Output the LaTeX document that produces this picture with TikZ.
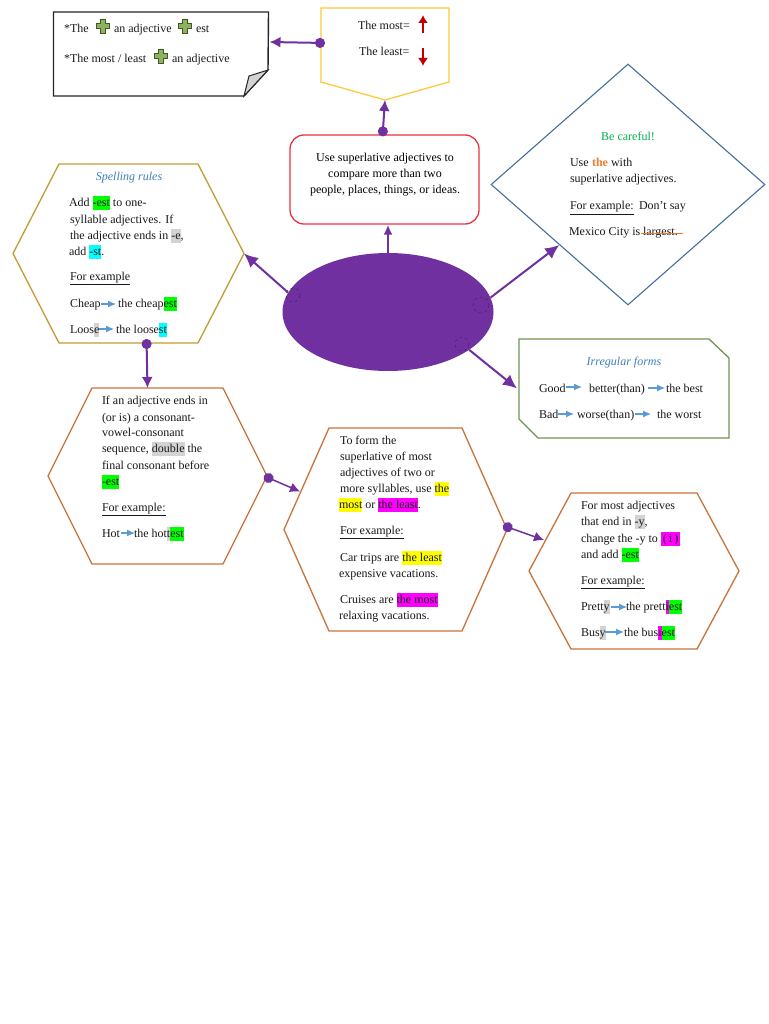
\documentclass[tikz,border=0pt]{standalone}
\usepackage{fontspec}
\setmainfont{Liberation Serif}
\usetikzlibrary{arrows.meta,shapes.geometric,shapes.misc}
\definecolor{pur}{HTML}{7030A0}
\definecolor{gold}{HTML}{FFC93C}
\definecolor{mustard}{HTML}{C49A35}
\definecolor{rust}{HTML}{C8733A}
\definecolor{leaf}{HTML}{6F9650}
\definecolor{dia}{HTML}{41719C}
\definecolor{redbox}{HTML}{E8343C}
\definecolor{skyb}{HTML}{5B9BD5}
\definecolor{titleb}{HTML}{3F7FBF}
\definecolor{orng}{HTML}{ED7D31}
\definecolor{grn}{HTML}{00FF00}
\definecolor{gry}{HTML}{D3D3D3}
\definecolor{cyn}{HTML}{00FFFF}
\definecolor{mag}{HTML}{FF00FF}
\definecolor{yel}{HTML}{FFFF00}
\definecolor{crossf}{HTML}{8DB262}
\definecolor{crossd}{HTML}{3F5A25}
\newcounter{tx}
\newcommand\hl[2]{{\setlength\fboxsep{0pt}\colorbox{#1}{\rule[-3.5pt]{0pt}{14pt}#2}}}
\newcommand\ul[1]{\underline{#1}}
\newcommand\T[3]{\stepcounter{tx}\node[txt] (t\arabic{tx}) at (#1,#2) {#3};}
\newcommand\Tc[3]{\stepcounter{tx}\node[txtc] (t\arabic{tx}) at (#1,#2) {#3};}
\newcommand\ar[3]{\draw[inl] (#1,#3) -- (#2,#3);}
\newcommand\hexa[7]{%
  \node[bbox,minimum width={(#3-#2)*1pt},minimum height={(#6-#5)*1pt}] (#1) at ({(#2+#3)/2},{(#5+#6)/2}) {};
  \draw[#7,line width=1.3pt] (#1.west) -- ([xshift=#4pt]#1.north west) -- ([xshift=-#4pt]#1.north east) -- (#1.east) -- ([xshift=-#4pt]#1.south east) -- ([xshift=#4pt]#1.south west) -- cycle;}
\newcommand\crossic[2]{\begin{scope}[shift={(#1,#2)}]
  \draw[draw=crossd,fill=crossf,line width=.9pt,line join=miter]
  (-2.5,-7) -- (2.5,-7) -- (2.5,-2.5) -- (6.5,-2.5) -- (6.5,2.5) -- (2.5,2.5) -- (2.5,7) -- (-2.5,7) -- (-2.5,2.5) -- (-6.5,2.5) -- (-6.5,-2.5) -- (-2.5,-2.5) -- cycle;
  \end{scope}}
\tikzset{
  x=1pt,y=-1pt,
  txt/.style={anchor=base west,inner sep=0pt,outer sep=0pt,font=\fontsize{12}{14}\selectfont,text=black!90},
  txtc/.style={anchor=base,inner sep=0pt,outer sep=0pt,font=\fontsize{12}{14}\selectfont},
  bbox/.style={rectangle,inner sep=0pt,outer sep=0pt},
  inl/.style={draw=skyb,line width=1.1pt,-{Latex[length=8pt,width=7pt]}},
  conn/.style={draw=pur,line width=2pt,-{Latex[length=14pt,width=13pt]}},
  shortconn/.style={draw=pur,line width=2pt,-{Latex[length=10pt,width=9pt]}},
  dotconn/.style={draw=pur,line width=2pt,{Circle[length=10pt,width=10pt]}-{Latex[length=11pt,width=11pt]}},
  smallconn/.style={draw=pur,line width=1.5pt,{Circle[length=10pt,width=10pt]}-{Latex[length=10pt,width=10pt]}},
  ring/.style={draw=pur!60!black,line width=.4pt,dashed},
}
\begin{document}
\begin{tikzpicture}
\useasboundingbox (0,0) rectangle (768,1024);
\fill[white] (0,0) rectangle (768,1024);
% note
\node[bbox,minimum width=215pt,minimum height=84pt] (note) at (161,54) {};
\draw[black!85,line width=1.4pt] (note.north west) -- (note.north east) -- (268,70) -- (244,96) -- (note.south west) -- cycle;
\draw[black!85,fill=gry,line width=1pt] (244,96) -- (249,76) -- (268,70) -- cycle;
% pentagon
\node[bbox,minimum width=128pt,minimum height=92pt] (pent) at (385,54) {};
\draw[gold,line width=1.3pt] (pent.north west) -- (pent.north east) -- (449,82) -- (pent.south) -- (321,82) -- cycle;
% red box
\node[rectangle,rounded corners=14pt,draw=redbox,line width=1.3pt,inner sep=0pt,minimum width=189pt,minimum height=89pt] (red) at (384.5,179.5) {};
% diamond
\node[diamond,draw=dia,line width=1.1pt,inner sep=0pt,aspect=1.137,minimum width=274pt,minimum height=241pt] (care) at (628,184.5) {};
% hexagons
\hexa{spell}{13}{244}{46}{164}{343}{mustard}
\hexa{dbl}{48}{267}{44}{388}{564}{rust}
\hexa{form}{284}{507}{45}{428}{631}{rust}
\hexa{yhex}{529}{739}{42}{493}{649}{rust}
% snipped rectangle
\node[bbox,minimum width=210pt,minimum height=99pt] (irr) at (624,388.5) {};
\draw[leaf,line width=1.3pt] (irr.north west) -- (709,339) -- (729,358) -- (irr.south east) -- (538,438) -- (519,419) -- cycle;
% ellipse
\node[ellipse,fill=pur,inner sep=0pt,minimum width=211pt,minimum height=118pt] (hub) at (388,312) {};
\draw[ring] (293,295) circle (7);
\draw[ring] (481,305) circle (8);
\draw[ring] (462,344) circle (7);
% connectors
\draw[shortconn] ([xshift=0pt]hub.north) -- ([xshift=3.5pt]red.south);
\draw[dotconn] ([xshift=-2pt,yshift=-2pt]red.north) -- (pent.south);
\draw[dotconn] ([xshift=4pt,yshift=11pt]pent.west) -- ([xshift=1pt,yshift=12pt]note.east);
\draw[conn] (hub.169) -- (spell.east);
\draw[dotconn] ([xshift=18pt,yshift=4pt]spell.south) -- ([xshift=-10pt]dbl.north);
\draw[conn] (hub.8) -- (care.south west);
\draw[conn] (hub.-25) -- ([xshift=-2pt]irr.west);
\draw[smallconn] ([xshift=-3pt,yshift=0pt]dbl.east) -- ([xshift=16pt,yshift=38pt]form.west);
\draw[smallconn] ([xshift=-4pt,yshift=4pt]form.east) -- ([xshift=15pt,yshift=31pt]yhex.west);
% note text
\T{64}{33}{*The} \crossic{103}{26} \T{114}{33}{an adjective} \crossic{185}{26} \T{196}{33}{est}
\T{64}{63}{*The most / least} \crossic{161}{56} \T{172}{63}{an adjective}
% pentagon text
\T{358}{30}{The most=} \T{359}{56}{The least=}
\draw[draw=red!75!black,line width=2.6pt,-{Latex[length=8pt,width=10pt]}] (423,33) -- (423,15);
\draw[draw=red!75!black,line width=2.6pt,-{Latex[length=8pt,width=10pt]}] (423,48) -- (423,66);
% red box text
\Tc{385}{162}{Use superlative adjectives to}
\Tc{385}{178}{compare more than two}
\Tc{385}{194}{people, places, things, or ideas.}
% spelling
\Tc{129}{181}{\color{titleb}\itshape Spelling rules}
\T{69}{207}{Add \hl{grn}{-est} to one-}
\T{70}{223}{syllable adjectives. If}
\T{70}{240}{the adjective ends in \hl{gry}{-e},}
\T{69}{255}{add \hl{cyn}{-st}.}
\T{70}{280}{\ul{For example}}
\T{70}{307}{Cheap} \ar{101}{116}{304} \T{118}{307}{the cheap\hl{grn}{est}}
\T{70}{333}{Loos\hl{gry}{e}} \ar{99}{114}{329} \T{116}{333}{the loose\hl{cyn}{st}}
% diamond
\Tc{628}{141}{\color[HTML]{00B050}Be careful!}
\T{570}{167}{Use} \T{592}{167}{\color{orng}\bfseries the} \T{611}{167}{with}
\T{570}{183}{superlative adjectives.}
\T{570}{210}{\ul{For example:}} \T{639}{210}{Don't say}
\T{569}{236}{Mexico City is} \T{643}{236}{largest.}
\draw[orng,line width=.8pt] (641,233) -- (683,233);
% irregular
\Tc{624}{365}{\color{titleb}\itshape Irregular forms}
\T{539}{392}{Good} \ar{566}{582}{387} \T{589}{392}{better(than)} \ar{648}{665}{388} \T{666}{392}{the best}
\T{539}{418}{Bad} \ar{558}{574}{414} \T{577}{418}{worse(than)} \ar{635}{651}{414} \T{657}{418}{the worst}
% double hex
\T{102}{404}{If an adjective ends in}
\T{102}{421}{(or is) a consonant-}
\T{102}{436}{vowel-consonant}
\T{102}{452}{sequence, \hl{gry}{double} the}
\T{102}{469}{final consonant before}
\T{102}{485}{\hl{grn}{-est}}
\T{102}{511}{\ul{For example:}}
\T{102}{537}{Hot} \ar{121}{135}{533} \T{134}{537}{the hot\hl{gry}{t}\hl{grn}{est}}
% form hex
\T{340}{444}{To form the}
\T{340}{460}{superlative of most}
\T{340}{476}{adjectives of two or}
\T{340}{492}{more syllables, use \hl{yel}{the}}
\T{339}{508}{\hl{yel}{most} or \hl{mag}{the least}.}
\T{340}{534}{\ul{For example:}}
\T{340}{561}{Car trips are \hl{yel}{the least}}
\T{339}{577}{expensive vacations.}
\T{340}{603}{Cruises are \hl{mag}{the most}}
\T{339}{619}{relaxing vacations.}
% y hex
\T{581}{509}{For most adjectives}
\T{581}{525}{that end in \hl{gry}{-y},}
\T{581}{542}{change the -y to \hl{mag}{\,(\,i\,)\,}}
\T{581}{558}{and add \hl{grn}{-est}}
\T{581}{584}{\ul{For example:}}
\T{581}{610}{Prett\hl{gry}{y}} \ar{611}{627}{607} \T{626}{610}{the prett\hl{mag}{i}\hl{grn}{est}}
\T{581}{636}{Bus\hl{gry}{y}} \ar{605}{624}{632} \T{624}{636}{the bus\hl{mag}{i}\hl{grn}{est}}
\end{tikzpicture}
\end{document}
